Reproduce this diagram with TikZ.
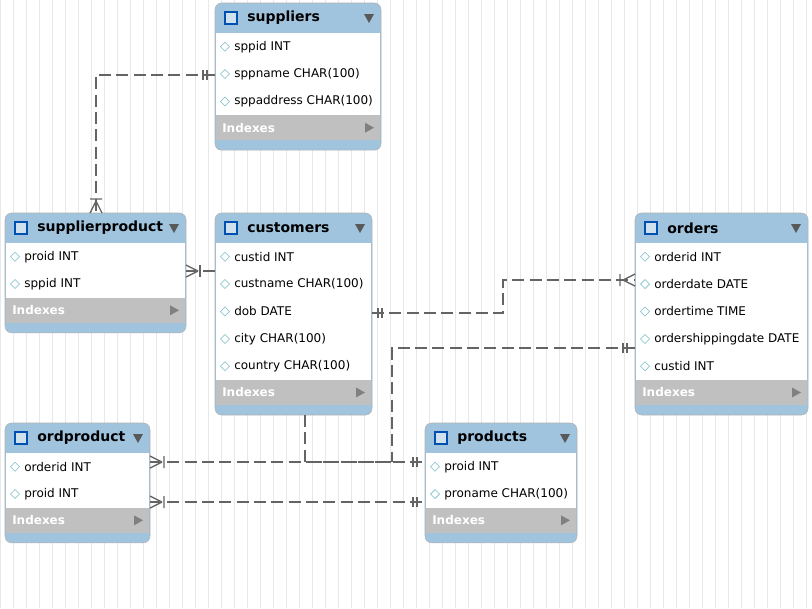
\documentclass[tikz,border=0pt]{standalone}
\usepackage{fontspec}
\setmainfont{DejaVu Sans}
\begin{document}
\definecolor{hdr}{RGB}{160,196,222}
\definecolor{idx}{RGB}{192,192,192}
\definecolor{gridc}{RGB}{232,232,232}
\definecolor{lnk}{RGB}{100,100,100}
\definecolor{dia}{RGB}{120,190,200}
\definecolor{fkc}{RGB}{200,120,120}
\begin{tikzpicture}[x=0.75pt,y=-0.75pt,
  link/.style={draw=lnk,line width=1.5pt,dash pattern=on 9pt off 4pt},
  cmark/.style={draw=lnk,line width=1pt},
  rowtxt/.style={anchor=west,font=\fontsize{9}{10}\selectfont,inner sep=0pt},
  hdrtxt/.style={anchor=west,font=\fontsize{10.5}{12}\selectfont\bfseries,inner sep=0pt},
  idxtxt/.style={anchor=west,font=\fontsize{9}{10}\selectfont\bfseries,text=white,inner sep=0pt}]
\useasboundingbox (0,0) rectangle (812,608);
\fill[white] (0,0) rectangle (812,608);
\draw[gridc,step=13] (0,0) grid (812,608);
\newcommand\erTable[7]{%
  \pgfmathsetmacro\bot{#3+30+#5*27.4+25+10}
  \fill[hdr,rounded corners=5] (#2,#3) rectangle (#2+#4,\bot);
  \draw[gray!60,rounded corners=5] (#2,#3) rectangle (#2+#4,\bot);
  \fill[white] (#2+1,#3+30) rectangle (#2+#4-1,#3+30+#5*27.4);
  \fill[idx] (#2+1,#3+30+#5*27.4) rectangle (#2+#4-1,#3+30+#5*27.4+25);
  \node[draw=none,inner sep=0pt] (#1) at (#2+#4/2,#3+15) {};
  \fill[blue!55!cyan!70!black] (#2+9,#3+8) rectangle (#2+23,#3+22);
  \fill[hdr!50!white] (#2+11,#3+10) rectangle (#2+21,#3+20);
  \node[hdrtxt] at (#2+32,#3+15) {#7};
  \fill[gray!70!black] (#2+#4-17,#3+11) -- (#2+#4-7,#3+11) -- (#2+#4-12,#3+20) -- cycle;
  \node[idxtxt] at (#2+7,#3+30+#5*27.4+12.5) {Indexes};
  \fill[gray] (#2+#4-16,#3+30+#5*27.4+7.5) -- (#2+#4-16,#3+30+#5*27.4+17.5) -- (#2+#4-7,#3+30+#5*27.4+12.5) -- cycle;
  \foreach \t/\s [count=\i] in {#6}{%
    \pgfmathsetmacro\yy{#3+30+(\i-0.5)*27.4}
    \ifx\t k
      \fill[yellow!80!orange] (#2+10,\yy-5) ellipse (2.5 and 3.5);
      \draw[yellow!60!orange,line width=1pt] (#2+10,\yy-2) -- (#2+10,\yy+5);
    \else\ifx\t f
      \draw[fkc] (#2+10,\yy-4.5) -- (#2+14.5,\yy) -- (#2+10,\yy+4.5) -- (#2+5.5,\yy) -- cycle;
    \else
      \draw[dia] (#2+10,\yy-4.5) -- (#2+14.5,\yy) -- (#2+10,\yy+4.5) -- (#2+5.5,\yy) -- cycle;
    \fi\fi
    \node[rowtxt] at (#2+19,\yy) {\s};
  }%
}
\erTable{sup}{215}{3}{166}{3}{k/sppid INT,a/sppname CHAR(100),a/sppaddress CHAR(100)}{suppliers}
\erTable{sp}{5}{213}{181}{2}{f/proid INT,f/sppid INT}{supplierproduct}
\erTable{cus}{215}{213}{157}{5}{k/custid INT,a/custname CHAR(100),a/dob DATE,a/city CHAR(100),a/country CHAR(100)}{customers}
\erTable{ord}{635}{213}{173}{5}{k/orderid INT,a/orderdate DATE,a/ordertime TIME,a/ordershippingdate DATE,f/custid INT}{orders}
\erTable{op}{5}{423}{145}{2}{f/orderid INT,f/proid INT}{ordproduct}
\erTable{pro}{425}{423}{152}{2}{k/proid INT,a/proname CHAR(100)}{products}
\coordinate (supL) at (215,75);
\coordinate (spT) at (96,213);
\coordinate (spR) at (186,271);
\coordinate (cusL) at (215,271);
\coordinate (cusR) at (372,313);
\coordinate (ordA) at (635,280);
\coordinate (ordB) at (635,348);
\coordinate (cusB) at (305,415);
\coordinate (opA) at (150,462);
\coordinate (opB) at (150,502);
\coordinate (proA) at (425,462);
\coordinate (proB) at (425,502);
\draw[link] (supL) -- (96,75) -- (spT);
\draw[link] (spR) -- (cusL);
\draw[link] (cusR) -- (503,313) -- (503,280) -- (ordA);
\draw[link] (ordB) -- (392,348) -- (392,462);
\draw[link] (cusB) -- (305,462) -- (392,462);
\draw[link] (opA) -- (proA);
\draw[link] (opB) -- (proB);
\draw[cmark] (207,70) -- (207,80) (203,70) -- (203,80);
\draw[cmark] (378,308) -- (378,318) (382,308) -- (382,318);
\draw[cmark] (627,343) -- (627,353) (623,343) -- (623,353);
\draw[cmark] (417,457) -- (417,467) (413,457) -- (413,467);
\draw[cmark] (417,497) -- (417,507) (413,497) -- (413,507);
\draw[cmark] (200,265) -- (200,277);
\draw[cmark] (96,201) -- (90,213) (96,201) -- (102,213) (90,199) -- (102,199);
\draw[cmark] (198,271) -- (186,265) (198,271) -- (186,277);
\draw[cmark] (623,280) -- (635,274) (623,280) -- (635,286) (620,274) -- (620,286);
\draw[cmark] (162,462) -- (150,456) (162,462) -- (150,468) (164,456) -- (164,468);
\draw[cmark] (162,502) -- (150,496) (162,502) -- (150,508) (164,496) -- (164,508);
\end{tikzpicture}
\end{document}
